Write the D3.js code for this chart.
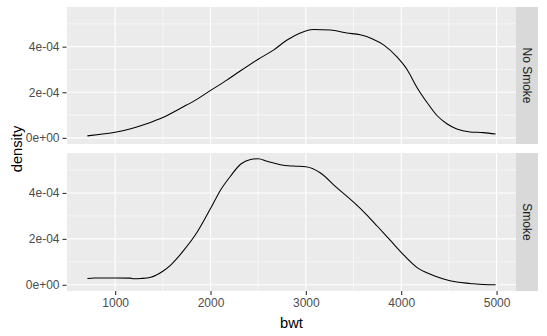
<!DOCTYPE html>
<html>
<head>
<meta charset="utf-8">
<script src="https://cdn.jsdelivr.net/npm/d3@7"></script>
<style>
  body { margin: 0; background: #fff; }
  text { font-family: "Liberation Sans", Arial, sans-serif; }
</style>
</head>
<body>
<script>
// facet labels
var facets = ['No Smoke', 'Smoke'];

// density curves (bwt, density in units of 1e-4)
var noSmokeBwt = [709, 850, 1000, 1164, 1338, 1500, 1686, 1861, 2000, 2167, 2300, 2500, 2664, 2803, 2942, 3080, 3256, 3430, 3570, 3700, 3819, 3958, 4063, 4167, 4271, 4375, 4479, 4583, 4722, 4861, 4990];
var noSmokeDens = [0.086, 0.16, 0.245, 0.40, 0.63, 0.89, 1.30, 1.70, 2.08, 2.52, 2.90, 3.45, 3.86, 4.29, 4.60, 4.75, 4.73, 4.60, 4.52, 4.34, 4.07, 3.54, 2.99, 2.20, 1.55, 0.98, 0.62, 0.39, 0.26, 0.23, 0.17];

var smokeBwt = [709, 780, 1000, 1157, 1199, 1268, 1373, 1500, 1582, 1721, 1861, 2000, 2106, 2211, 2315, 2420, 2500, 2594, 2733, 2872, 3000, 3150, 3324, 3498, 3638, 3750, 3889, 4028, 4167, 4306, 4444, 4583, 4722, 4861, 4990];
var smokeDens = [0.275, 0.30, 0.30, 0.29, 0.26, 0.275, 0.33, 0.59, 0.86, 1.51, 2.30, 3.32, 4.13, 4.74, 5.25, 5.46, 5.49, 5.38, 5.23, 5.17, 5.14, 4.88, 4.23, 3.61, 3.05, 2.55, 1.92, 1.29, 0.75, 0.46, 0.25, 0.12, 0.06, 0.01, 0.0];

// axis ticks
var xTicks = [1000, 2000, 3000, 4000, 5000];
var xMinor = [1500, 2500, 3500, 4500];
var yTicks = [0, 2e-4, 4e-4];
var yTickLabels = ['0e+00', '2e-04', '4e-04'];
var yMinor = [1e-4, 3e-4, 5e-4];

var width = 547, height = 336;
var left = 67, right = 516, stripW = 22;
var panels = [{top: 7, bottom: 144}, {top: 153, bottom: 291}];

var series = [
  noSmokeBwt.map((d, i) => ({x: d, y: noSmokeDens[i] * 1e-4})),
  smokeBwt.map((d, i) => ({x: d, y: smokeDens[i] * 1e-4}))
];

var svg = d3.select('body').append('svg')
  .attr('width', width)
  .attr('height', height);

var x = d3.scaleLinear().domain([495, 5204]).range([left, right]);

panels.forEach((p, k) => {
  var y = d3.scaleLinear().domain([-2.7e-5, 5.74e-4]).range([p.bottom, p.top]);
  var g = svg.append('g');

  // panel background
  g.append('rect')
    .attr('x', left).attr('y', p.top)
    .attr('width', right - left).attr('height', p.bottom - p.top)
    .attr('fill', '#ebebeb');

  // minor grid
  g.selectAll('.ymin').data(yMinor).enter().append('line')
    .attr('x1', left).attr('x2', right)
    .attr('y1', d => y(d)).attr('y2', d => y(d))
    .attr('stroke', '#fff').attr('stroke-width', 0.55);
  g.selectAll('.xmin').data(xMinor).enter().append('line')
    .attr('y1', p.top).attr('y2', p.bottom)
    .attr('x1', d => x(d)).attr('x2', d => x(d))
    .attr('stroke', '#fff').attr('stroke-width', 0.55);

  // major grid
  g.selectAll('.ymaj').data(yTicks).enter().append('line')
    .attr('x1', left).attr('x2', right)
    .attr('y1', d => y(d)).attr('y2', d => y(d))
    .attr('stroke', '#fff').attr('stroke-width', 1.1);
  g.selectAll('.xmaj').data(xTicks).enter().append('line')
    .attr('y1', p.top).attr('y2', p.bottom)
    .attr('x1', d => x(d)).attr('x2', d => x(d))
    .attr('stroke', '#fff').attr('stroke-width', 1.1);

  // density line
  var line = d3.line()
    .x(d => x(d.x))
    .y(d => y(d.y))
    .curve(d3.curveMonotoneX);
  g.append('path')
    .datum(series[k])
    .attr('d', line)
    .attr('fill', 'none')
    .attr('stroke', '#000')
    .attr('stroke-width', 1.05);

  // y axis
  var yAxis = d3.axisLeft(y)
    .tickValues(yTicks)
    .tickSize(4)
    .tickPadding(3)
    .tickFormat((d, i) => yTickLabels[i]);
  var ya = g.append('g')
    .attr('transform', 'translate(' + (left - 0.5) + ',0)')
    .call(yAxis);
  ya.select('.domain').remove();
  ya.selectAll('line').attr('stroke', '#333333').attr('stroke-width', 1.1);
  ya.selectAll('text')
    .attr('fill', '#4d4d4d')
    .style('font-size', '12px')
    .style('font-family', '"Liberation Sans", Arial, sans-serif');

  // strip on the right
  g.append('rect')
    .attr('x', right).attr('y', p.top)
    .attr('width', stripW).attr('height', p.bottom - p.top)
    .attr('fill', '#d9d9d9');
  g.append('text')
    .attr('transform', 'translate(' + (right + stripW / 2) + ',' + ((p.top + p.bottom) / 2) + ') rotate(90)')
    .attr('text-anchor', 'middle')
    .attr('dy', '0.35em')
    .attr('fill', '#1a1a1a')
    .style('font-size', '12px')
    .text(facets[k]);
});

// x axis under the bottom panel
var xAxis = d3.axisBottom(x)
  .tickValues(xTicks)
  .tickSize(4)
  .tickPadding(3)
  .tickFormat(d3.format('d'));
var xa = svg.append('g')
  .attr('transform', 'translate(0,' + panels[1].bottom + ')')
  .call(xAxis);
xa.select('.domain').remove();
xa.selectAll('line').attr('stroke', '#333333').attr('stroke-width', 1.1);
xa.selectAll('text')
  .attr('fill', '#4d4d4d')
  .style('font-size', '12px')
  .style('font-family', '"Liberation Sans", Arial, sans-serif');

// axis titles
svg.append('text')
  .attr('x', (left + right) / 2)
  .attr('y', 328)
  .attr('text-anchor', 'middle')
  .attr('fill', '#000')
  .style('font-size', '14.7px')
  .text('bwt');

svg.append('text')
  .attr('transform', 'translate(17,' + ((panels[0].top + panels[1].bottom) / 2) + ') rotate(-90)')
  .attr('text-anchor', 'middle')
  .attr('dy', '0.35em')
  .attr('fill', '#000')
  .style('font-size', '14.7px')
  .text('density');
</script>
</body>
</html>
